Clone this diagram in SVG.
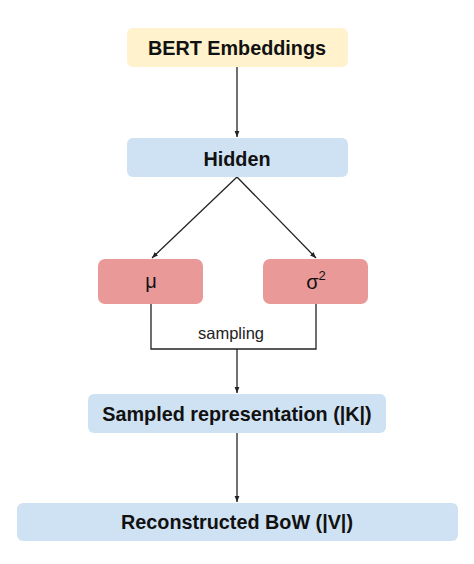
<svg xmlns="http://www.w3.org/2000/svg" width="474" height="564" viewBox="0 0 474 564">
<defs>
<marker id="ah" viewBox="0 0 10 10" refX="10" refY="5" markerWidth="6" markerHeight="6" orient="auto" markerUnits="userSpaceOnUse">
<path d="M0,1 L10,5 L0,9 z" fill="#222"/>
</marker>
<style>
.yel{fill:#fff2cc}
.blu{fill:#cfe2f3}
.red{fill:#ea9999}
.bt{font-family:"Liberation Sans",Arial,sans-serif;font-weight:bold;font-size:19.8px;fill:#111;text-anchor:middle}
.rt{font-family:"Liberation Sans",Arial,sans-serif;font-size:20px;fill:#111;text-anchor:middle}
.st{font-family:"Liberation Sans",Arial,sans-serif;font-size:16.5px;fill:#222;text-anchor:middle}
.ln{stroke:#222;stroke-width:1.3;fill:none}
</style>
</defs>
<rect width="474" height="564" fill="#fff"/>
<g id="connectors">
<line class="ln" x1="237" y1="67" x2="237" y2="137" marker-end="url(#ah)"/>
<line class="ln" x1="237" y1="177" x2="152" y2="258" marker-end="url(#ah)"/>
<line class="ln" x1="237" y1="177" x2="316" y2="258" marker-end="url(#ah)"/>
<polyline class="ln" points="151,304 151,349 316,349 316,304"/>
<line class="ln" x1="237" y1="349" x2="237" y2="393" marker-end="url(#ah)"/>
<line class="ln" x1="237" y1="433" x2="237" y2="502" marker-end="url(#ah)"/>
<text class="st" x="231" y="339">sampling</text>
</g>
<g id="bert">
<rect class="yel" x="127" y="28" width="221" height="39" rx="6"/>
<text class="bt" x="237" y="55">BERT Embeddings</text>
</g>
<g id="hidden">
<rect class="blu" x="127" y="138" width="221" height="39" rx="6"/>
<text class="bt" x="237" y="166">Hidden</text>
</g>
<g id="mu">
<rect class="red" x="98" y="259" width="105" height="45" rx="7"/>
<text class="rt" x="151" y="288">μ</text>
</g>
<g id="sigma">
<rect class="red" x="263" y="259" width="105" height="45" rx="7"/>
<text class="rt" x="316" y="289">σ<tspan font-size="13" dy="-9">2</tspan></text>
</g>
<g id="sampled">
<rect class="blu" x="88" y="394" width="298" height="39" rx="6"/>
<text class="bt" x="237" y="421">Sampled representation (|K|)</text>
</g>
<g id="reconstructed">
<rect class="blu" x="17" y="503" width="441" height="38" rx="6"/>
<text class="bt" x="237" y="529">Reconstructed BoW (|V|)</text>
</g>
</svg>
